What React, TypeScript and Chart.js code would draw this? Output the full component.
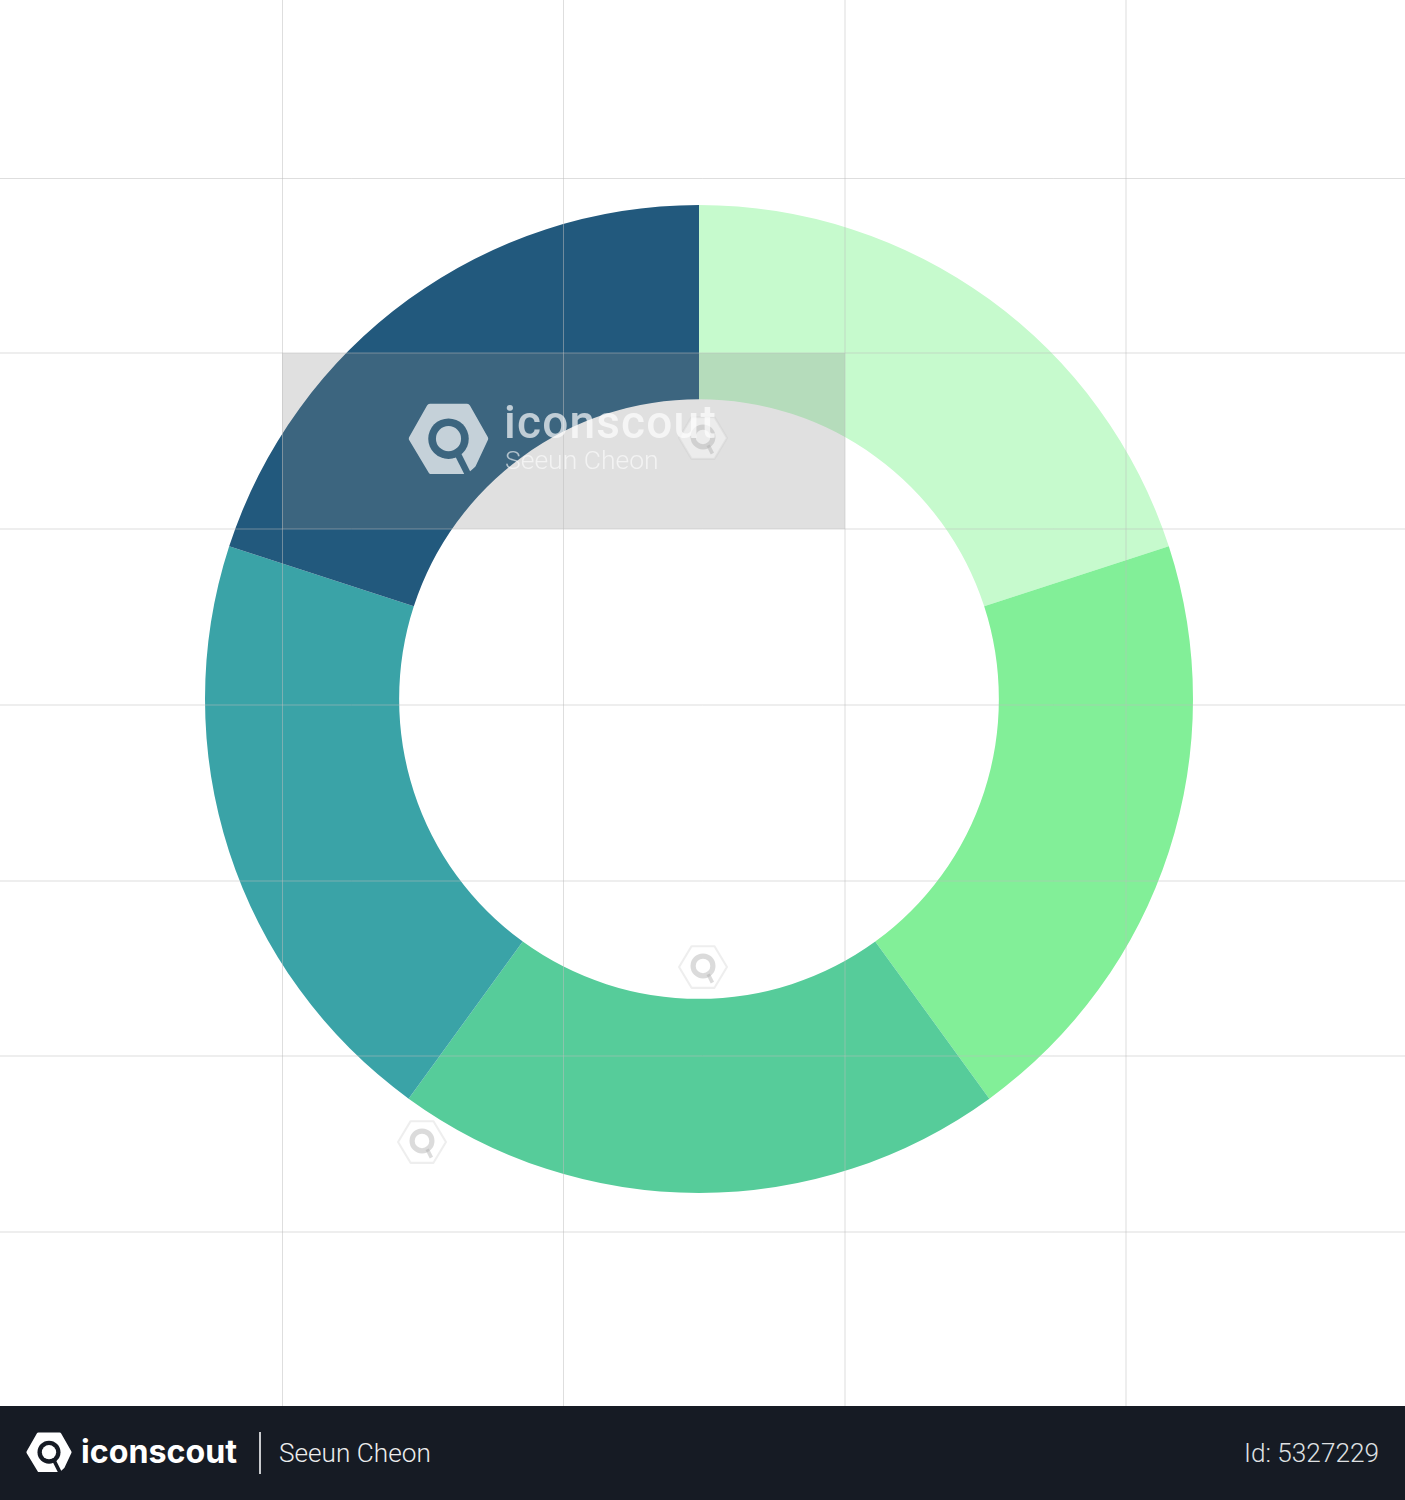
import React, { useEffect, useRef } from "react";
import { Chart, registerables } from "chart.js";

Chart.register(...registerables);

const categories = ["A", "B", "C", "D", "E"];
const values = [20, 20, 20, 20, 20];
const colors = ["#C6FACD", "#82EF98", "#56CC9A", "#3AA3A7", "#22597D"];
const gridX = [282.5, 563.5, 845, 1126];
const gridY = [178.5, 353, 529, 705, 881, 1056, 1232];

const W = 1405;
const CH = 1406;

const gridPlugin = {
  id: "sheetGrid",
  afterDatasetsDraw(chart: any) {
    const c = chart.ctx;
    c.save();
    c.fillStyle = "rgba(135,135,135,0.258)";
    c.fillRect(282, 353, 563, 176);
    c.strokeStyle = "rgba(190,190,190,0.5)";
    c.lineWidth = 1;
    c.beginPath();
    gridX.forEach((x) => { c.moveTo(x, 0); c.lineTo(x, CH); });
    gridY.forEach((y) => { c.moveTo(0, y); c.lineTo(W, y); });
    c.stroke();
    c.restore();
  },
};

function Logo({ id, x, y, w, color, opacity = 1 }: any) {
  const h = (w * 88) / 100;
  return (
    <svg width={w} height={h} viewBox="0 0 100 88"
      style={{ position: "absolute", left: x, top: y, opacity }}>
      <mask id={id} maskUnits="userSpaceOnUse" x="0" y="0" width="100" height="88">
        <path d="M27 5 L73 5 L95 44 L80 76 L71 84 L29 84 L5 44 Z" fill="#fff" stroke="#fff" strokeWidth="8" strokeLinejoin="round" />
        <circle cx="50" cy="44" r="25" fill="#000" />
        <circle cx="50" cy="44" r="15.5" fill="#fff" />
        <line x1="61" y1="62" x2="75" y2="90" stroke="#000" strokeWidth="8" />
        <path d="M77 90 L100 90 L100 76 L83 80 Z" fill="#000" />
      </mask>
      <rect width="100" height="88" fill={color} mask={`url(#${id})`} />
    </svg>
  );
}

function FaintLogo({ x, y }: any) {
  return (
    <svg width={50} height={50} viewBox="0 0 48 48" style={{ position: "absolute", left: x - 25, top: y - 25 }}>
      <path d="M13 4 L35 4 L47 24 L35 44 L13 44 L1 24 Z" fill="rgba(255,255,255,0.4)" stroke="rgba(200,200,200,0.3)" strokeWidth="2" strokeLinejoin="round" />
      <circle cx="24" cy="23" r="9.5" fill="none" stroke="rgba(170,170,170,0.42)" strokeWidth="5" />
      <line x1="29" y1="31" x2="33" y2="39" stroke="rgba(170,170,170,0.42)" strokeWidth="3.5" />
    </svg>
  );
}

const textBase: React.CSSProperties = { position: "absolute", whiteSpace: "nowrap", lineHeight: 1 };

export default function App() {
  const ref = useRef<HTMLCanvasElement>(null);
  useEffect(() => {
    const chart = new Chart(ref.current!, {
      type: "doughnut",
      data: {
        labels: categories,
        datasets: [{ data: values, backgroundColor: colors, borderWidth: 0 }],
      },
      options: {
        responsive: false,
        animation: false,
        cutout: "60.7%",
        layout: { padding: { left: 205, right: 212, top: 205, bottom: 213 } },
        plugins: { legend: { display: false }, tooltip: { enabled: false } },
      },
      plugins: [gridPlugin],
    } as any);
    return () => chart.destroy();
  }, []);

  return (
    <div style={{ position: "absolute", left: 0, top: 0, width: W, height: 1500, background: "#fff", overflow: "hidden" }}>
      <canvas ref={ref} width={W} height={CH} style={{ display: "block" }} />
      <FaintLogo x={703} y={438} />
      <FaintLogo x={703} y={967} />
      <FaintLogo x={422} y={1142} />
      <Logo id="wm" x={408} y={403} w={81} color="#fff" opacity={0.7} />
      <div style={{ ...textBase, left: 504, top: 399, fontFamily: "Roboto", fontWeight: 500, fontSize: 46, letterSpacing: 1.2, color: "rgba(255,255,255,0.68)" }}>iconscout</div>
      <div style={{ ...textBase, left: 505, top: 447, fontFamily: "Roboto", fontWeight: 300, fontSize: 26.5, color: "rgba(255,255,255,0.6)" }}>Seeun Cheon</div>
      <div style={{ position: "absolute", left: 0, top: 1406, width: W, height: 94, background: "#161B24" }}>
        <Logo id="ft" x={26} y={26} w={46} color="#fff" />
        <div style={{ ...textBase, left: 81, top: 30, fontFamily: "Inter", fontWeight: 700, fontSize: 32.2, color: "#fff" }}>iconscout</div>
        <div style={{ position: "absolute", left: 259, top: 26, width: 1.5, height: 42, background: "#c8cacd" }} />
        <div style={{ ...textBase, left: 279, top: 34, fontFamily: "Roboto", fontWeight: 300, fontSize: 26.2, color: "#eceded" }}>Seeun Cheon</div>
        <div style={{ ...textBase, right: 26, top: 34, fontFamily: "Roboto", fontWeight: 300, fontSize: 26.2, color: "#dfe0e2" }}>Id: 5327229</div>
      </div>
    </div>
  );
}
